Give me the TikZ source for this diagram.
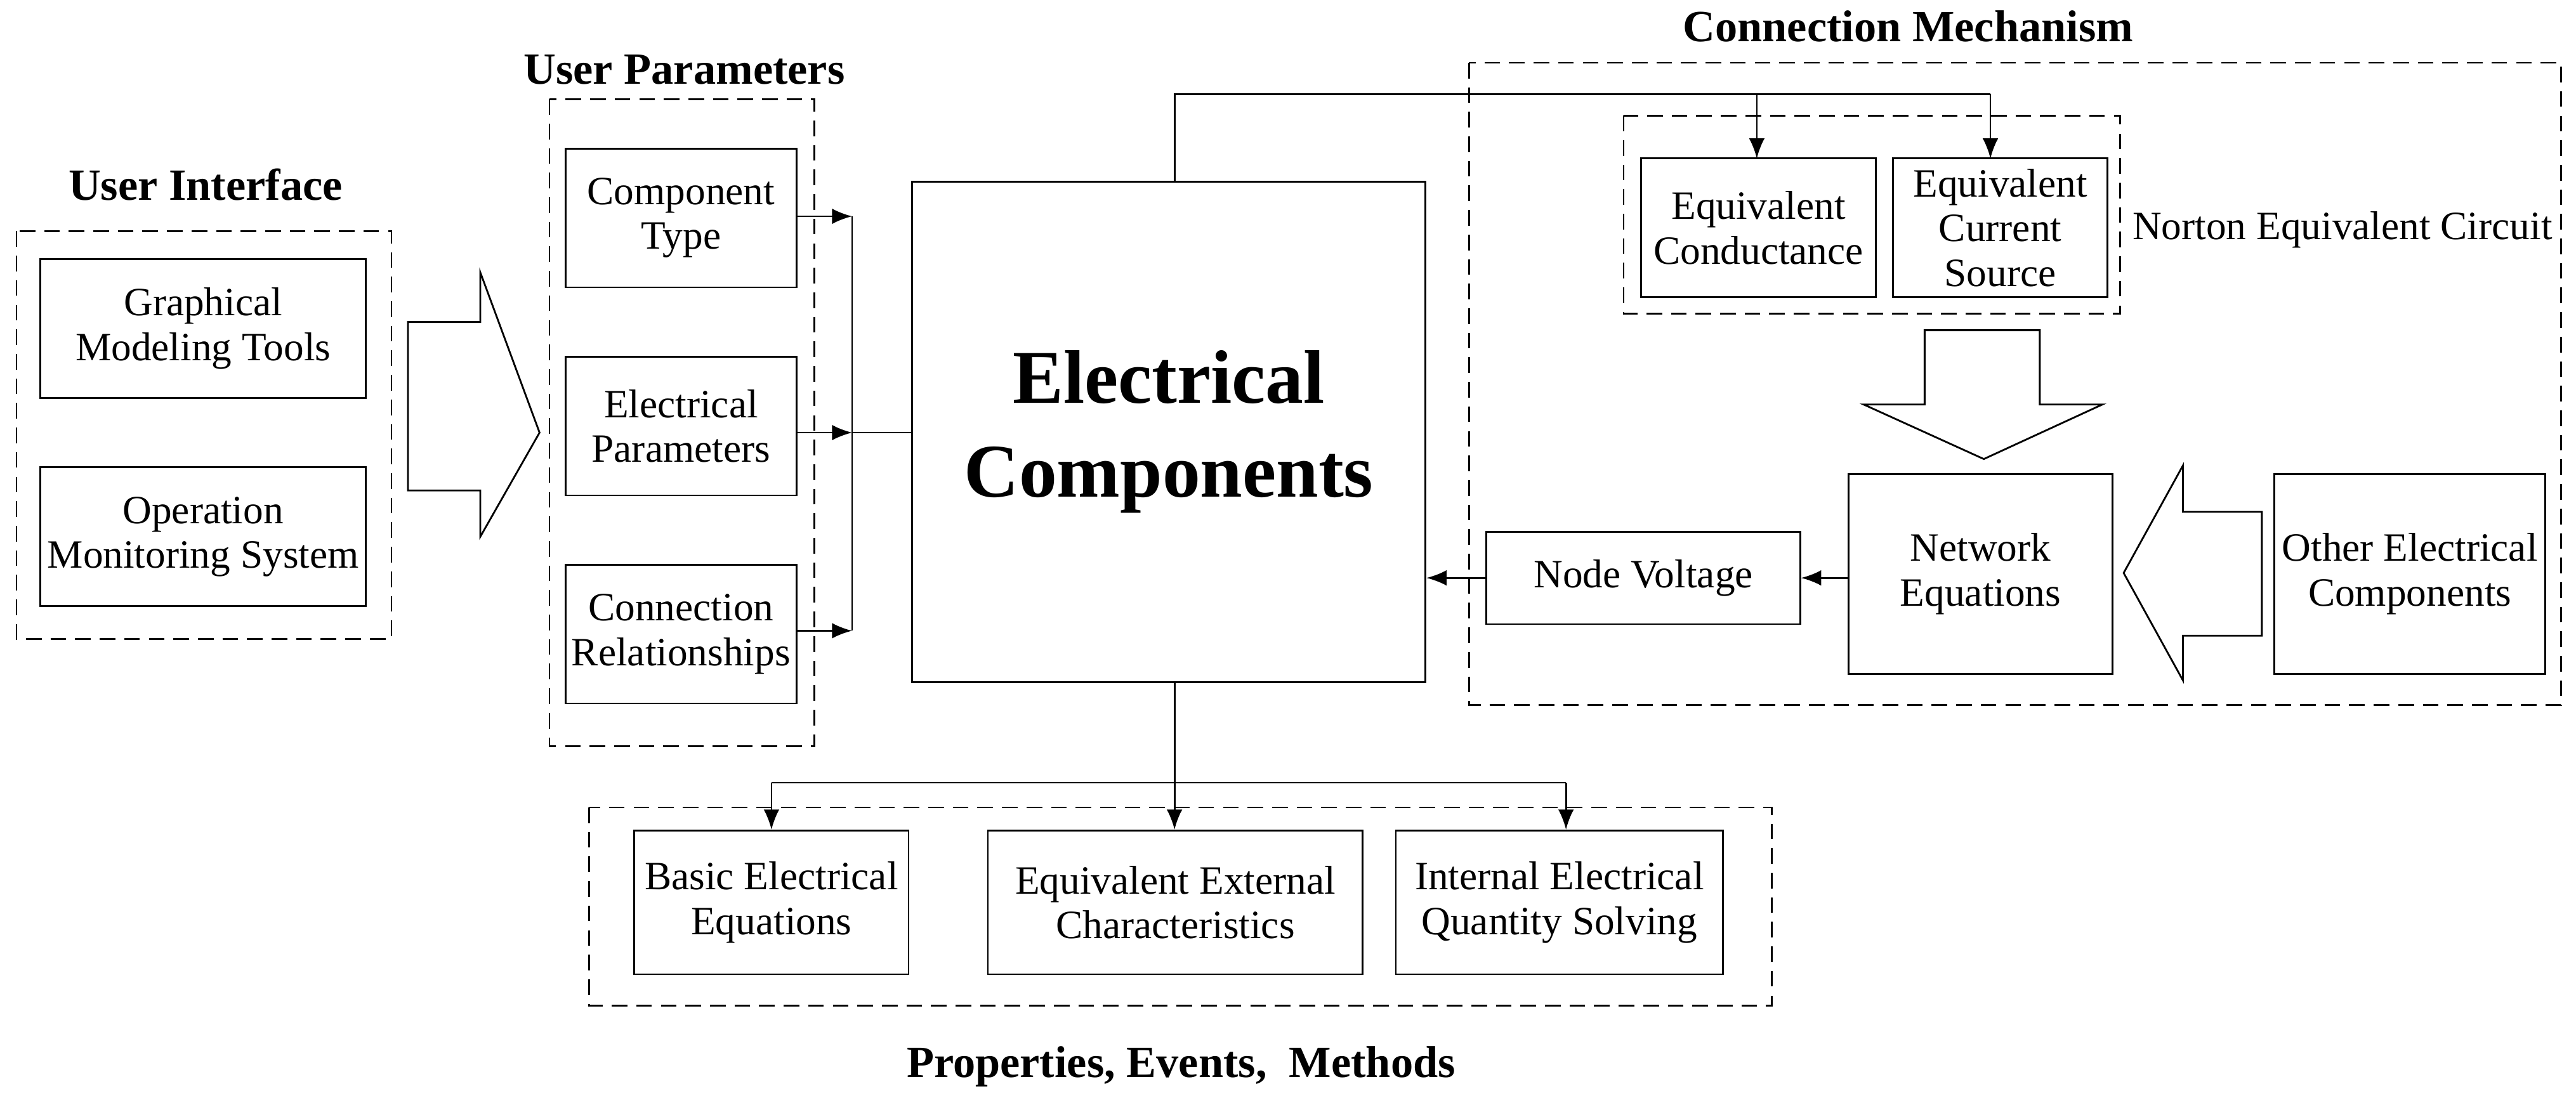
\documentclass[tikz,border=0pt]{standalone}
\usepackage{fontspec}
\setmainfont{Liberation Serif}
\usetikzlibrary{arrows,arrows.meta,shapes,positioning}
\tikzset{
  box/.style 2 args={draw,thick,align=center,minimum width=#1*0.026cm,minimum height=#2*0.026cm,inner sep=1pt,font=\fontsize{18}{20}\selectfont},
  frame/.style={draw,thick,dash pattern=on 7pt off 4pt},
  ttl/.style={font=\fontsize{20}{24}\selectfont\bfseries},
  conn/.style={thick,-{Latex[length=9pt,width=7pt]}},
  hollow/.style={draw,thick,fill=white}
}
\begin{document}
\begin{tikzpicture}[x=0.0259cm,y=-0.026cm]
\useasboundingbox (0,0) rectangle (1566,668);

% user interface
\draw[frame] (10,140) rectangle (238,387);
\node[ttl] (uiT) at (125,112) {User Interface};
\node[box={197}{84}] (gmt) at (123.5,199) {Graphical\\Modeling Tools};
\node[box={197}{84}] (oms) at (123.5,325) {Operation\\Monitoring System};
\draw[hollow] (248,195) -- (292,195) -- (292,165) -- (328,262) -- (292,325) -- (292,297) -- (248,297) -- cycle;

% user parameters
\draw[frame] (334,60) rectangle (495,452);
\node[ttl] (upT) at (416,42) {User Parameters};
\node[box={140}{84}] (ct) at (414,132) {Component\\Type};
\node[box={140}{84}] (ep) at (414,258) {Electrical\\Parameters};
\node[box={140}{84}] (cr) at (414,384) {Connection\\Relationships};
\coordinate (b1) at (518,131);
\coordinate (b2) at (518,262);
\coordinate (b3) at (518,382);
\draw[conn] (ct.east |- b1) -- (b1);
\draw[conn] (ep.east |- b2) -- (b2);
\draw[conn] (cr.east |- b3) -- (b3);
\draw[thick] (b1) -- (b3);

% electrical components
\node[box={311}{303},font=\fontsize{34}{42}\selectfont\bfseries] (ec) at (710.5,261.5) {Electrical\\Components};
\draw[thick] (b2) -- (ec.west |- b2);

% connection mechanism
\draw[frame] (893,38) rectangle (1557,427);
\node[ttl] (cmT) at (1160,16) {Connection Mechanism};
\draw[frame] (987,70) rectangle (1289,190);
\node[font=\fontsize{18}{21}\selectfont] (nec) at (1424,139) {Norton Equivalent Circuit};
\node[box={142}{84}] (eqc) at (1069,138) {Equivalent\\Conductance};
\node[box={130}{84}] (ecs) at (1216,138) {Equivalent\\Current\\Source};
\coordinate (top) at (714,57);
\draw[thick] (ec.north -| top) -- (top) -- (1210,57);
\draw[conn] (1068,57) -- (1068,96);
\draw[conn] (1210,57) -- (1210,96);
\draw[hollow] (1170,200) -- (1240,200) -- (1240,245) -- (1278,245) -- (1206,278) -- (1133,245) -- (1170,245) -- cycle;
\node[box={160}{121}] (ne) at (1204,347.5) {Network\\Equations};
\node[box={164}{121}] (oec) at (1465,347.5) {Other Electrical\\Components};
\draw[hollow] (1291,347) -- (1327,282) -- (1327,310) -- (1375,310) -- (1375,385) -- (1327,385) -- (1327,412) -- cycle;
\node[box={190}{56}] (nv) at (999,350) {Node Voltage};
\draw[conn] (ne.west |- nv) -- (nv.east);
\draw[conn] (nv.west) -- (ec.east |- nv);

% properties, events, methods
\draw[frame] (358,489) rectangle (1077,609);
\node[ttl] (peT) at (718,646) {Properties, Events,\ \ Methods};
\node[box={166}{87}] (bee) at (469,546.5) {Basic Electrical\\Equations};
\node[box={227}{87}] (eec) at (714.5,546.5) {Equivalent External\\Characteristics};
\node[box={198}{87}] (iqs) at (948,546.5) {Internal Electrical\\Quantity Solving};
\coordinate (bl) at (469,474);
\coordinate (br) at (952,474);
\draw[conn] (ec.south -| top) -- (eec.north -| top);
\draw[thick] (bl) -- (br);
\draw[conn] (bl) -- (bl |- bee.north);
\draw[conn] (br) -- (br |- iqs.north);
\end{tikzpicture}
\end{document}
